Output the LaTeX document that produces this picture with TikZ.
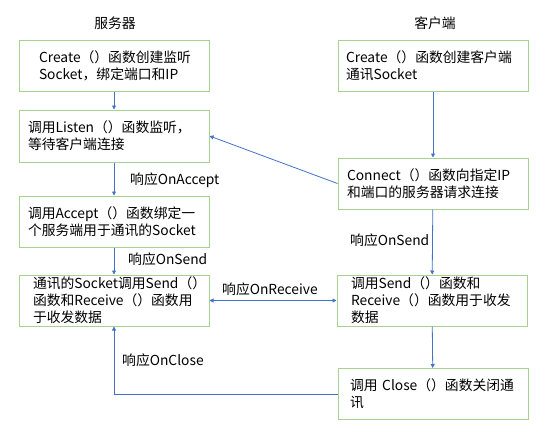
\documentclass[tikz,border=0pt]{standalone}
\usepackage{fontspec}
\setmainfont{Noto Sans CJK SC}
\usetikzlibrary{arrows.meta}
\definecolor{boxgreen}{RGB}{169,209,142}
\definecolor{lineblue}{RGB}{68,114,196}

\begin{document}
\begin{tikzpicture}[x=1pt,y=-1pt,
        font=\fontsize{13.8pt}{17pt}\selectfont,
        box/.style={draw=boxgreen,line width=1pt,minimum width=190pt,minimum height=51pt,
            inner ysep=0pt,inner xsep=9pt,text width=172pt,align=left},
        flow/.style={draw=lineblue,line width=0.8pt,-{Triangle[width=4pt,length=4pt]}},
        tag/.style={anchor=west,inner sep=0pt}]
        \useasboundingbox (0,0) rectangle (554,434);
        % 标题
        \node (server) at (115,23) {服务器};
        \node (client) at (435,23) {客户端};
        % 服务器一侧的方框
        \node [box,inner xsep=20pt,text width=150pt] (s1) at (114,65.5) {Create（）函数创建监听\\Socket，绑定端口和IP};
        \node [box,minimum height=52pt] (s2) at (114,136) {调用Listen（）函数监听，\\等待客户端连接};
        \node [box] (s3) at (114,221.5) {调用Accept（）函数绑定一\\个服务端用于通讯的Socket};
        \node [box,inner xsep=14pt,text width=162pt] (s4) at (114,300.5) {通讯的Socket调用Send（）\\函数和Receive（）函数用\\于收发数据};
        % 客户端一侧的方框
        \node [box,inner xsep=8pt,text width=174pt] (c1) at (433,65.5) {Create（）函数创建客户端\\通讯Socket};
        \node [box] (c2) at (433,183.5) {Connect（）函数向指定IP\\和端口的服务器请求连接};
        \node [box,inner xsep=14pt,text width=162pt] (c3) at (432,300.5) {调用Send（）函数和\\Receive（）函数用于收发\\数据};
        \node [box,inner xsep=12pt,text width=166pt] (c4) at (433,394) {调用 Close（）函数关闭通\\讯};
        % 连线
        \draw [flow] (s1) -- (s2);
        \draw [flow] (s2) -- (s3);
        \draw [flow] (s3) -- (s4);
        \draw [flow] (c1) -- (c2);
        \draw [flow] (c2) -- (c3);
        \draw [flow] (c3) -- (c4);
        \draw [flow] (c2.west) -- (s2.east);
        \draw [flow,{Triangle[width=4pt,length=4pt]}-{Triangle[width=4pt,length=4pt]}] (s4) -- (c3);
        \draw [flow] (c4.west) -- (s4.south |- c4.west) -- (s4.south);
        % 标注
        \node [tag] (accept) at (130,180) {响应OnAccept};
        \node [tag] (sendl) at (128,259) {响应OnSend};
        \node [tag] (sendr) at (350,240) {响应OnSend};
        \node [tag] (receive) at (222,289) {响应OnReceive};
        \node [tag] (close) at (122,360) {响应OnClose};
    \end{tikzpicture}
\end{document}
